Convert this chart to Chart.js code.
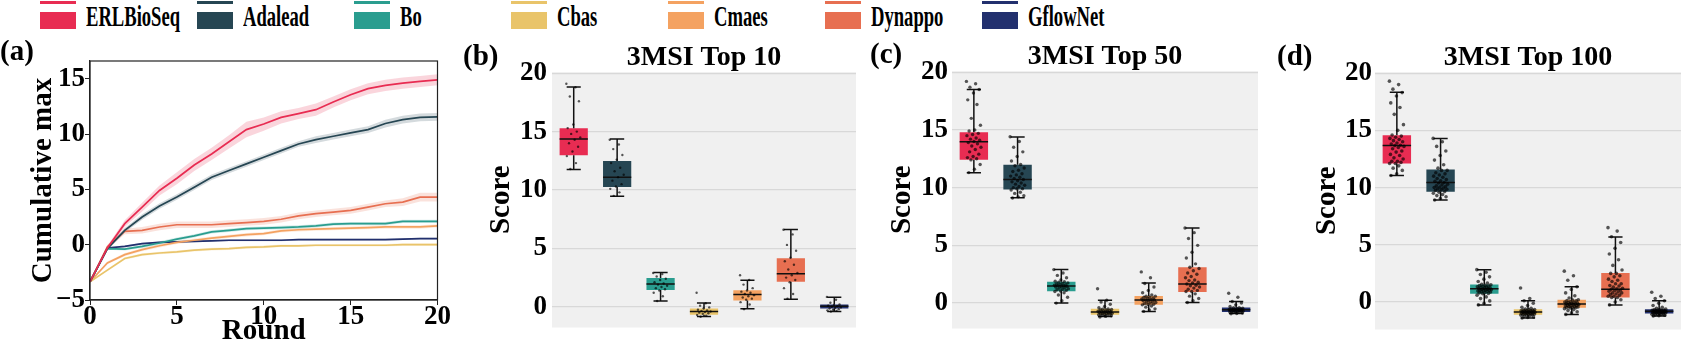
<!DOCTYPE html>
<html lang="en">
<head>
<meta charset="UTF-8">
<title>3MSI</title>
<script src="https://cdn.jsdelivr.net/npm/chart.js"></script>
<style>
  body { margin: 0; width: 1685px; height: 346px; position: relative; overflow: hidden; background: #fff;
         font-family: "Liberation Serif", "Times New Roman", serif; }
  canvas { position: absolute; top: 40px; }
  .item { position: absolute; top: 0; height: 36px; }
  .sw-line { position: absolute; left: 0; top: 1px; width: 36px; height: 3px; }
  .sw-box { position: absolute; left: 0; top: 12px; width: 36px; height: 17px; }
  .lab { position: absolute; left: 46px; top: 1px; font-weight: bold; font-size: 30px; line-height: 30px;
         white-space: nowrap; transform: scaleX(0.62); transform-origin: left top; color: #000; }
</style>
</head>
<body>
<div id="legend"></div>
<canvas id="pa" width="450" height="306" style="left:0px"></canvas>
<canvas id="pb" width="440" height="306" style="left:420px"></canvas>
<canvas id="pc" width="422" height="306" style="left:840px"></canvas>
<canvas id="pd" width="423" height="306" style="left:1262px"></canvas>
<script>
// ---- data ----
const methods = ['ERLBioSeq', 'Adalead', 'Bo', 'Cbas', 'Cmaes', 'Dynappo', 'GflowNet'];
const colors  = ['#E82C52', '#264653', '#2A9D8F', '#E9C46A', '#F4A261', '#E76F51', '#22306E'];

// (a) cumulative max per round, mean and spread
const rounds = [0,1,2,3,4,5,6,7,8,9,10,11,12,13,14,15,16,17,18,19,20];
const erlMean   = [-3.35,-0.3,1.9,3.4,4.9,6.0,7.2,8.2,9.3,10.4,10.9,11.5,11.85,12.2,12.9,13.55,14.1,14.4,14.6,14.75,14.9];
const erlSd     = [0.05,0.2,0.3,0.4,0.45,0.55,0.55,0.55,0.6,0.7,0.6,0.55,0.5,0.55,0.5,0.5,0.5,0.5,0.5,0.5,0.5];
const adaMean   = [-3.35,-0.35,1.3,2.5,3.5,4.3,5.2,6.1,6.7,7.3,7.9,8.5,9.1,9.5,9.8,10.1,10.4,10.95,11.3,11.5,11.55];
const adaSd     = [0.05,0.15,0.2,0.25,0.25,0.25,0.25,0.25,0.25,0.25,0.25,0.25,0.25,0.3,0.3,0.3,0.3,0.35,0.35,0.35,0.35];
const boMean    = [-3.35,-0.35,-0.4,-0.15,0.15,0.5,0.8,1.15,1.3,1.45,1.5,1.55,1.6,1.7,1.85,1.9,1.9,1.9,2.1,2.1,2.1];
const boSd      = [0.05,0.1,0.12,0.15,0.15,0.15,0.15,0.15,0.15,0.15,0.15,0.15,0.15,0.15,0.15,0.15,0.15,0.15,0.15,0.15,0.15];
const cbasMean  = [-3.35,-2.3,-1.25,-0.9,-0.75,-0.65,-0.5,-0.4,-0.35,-0.25,-0.2,-0.1,-0.1,-0.05,-0.05,-0.05,-0.05,-0.05,0,0,0];
const cbasSd    = [0.05,0.1,0.12,0.12,0.12,0.12,0.12,0.12,0.12,0.12,0.12,0.12,0.12,0.12,0.12,0.12,0.12,0.12,0.12,0.12,0.12];
const cmaesMean = [-3.35,-1.65,-0.9,-0.45,-0.1,0.2,0.4,0.6,0.75,0.9,1.0,1.25,1.35,1.4,1.45,1.5,1.55,1.6,1.6,1.6,1.7];
const cmaesSd   = [0.05,0.12,0.15,0.15,0.15,0.15,0.15,0.15,0.15,0.15,0.15,0.15,0.15,0.15,0.15,0.15,0.15,0.15,0.15,0.15,0.15];
const dynMean   = [-3.35,-0.2,1.2,1.3,1.6,1.8,1.8,1.8,1.9,2.0,2.1,2.3,2.6,2.8,2.95,3.1,3.4,3.7,3.85,4.3,4.3];
const dynSd     = [0.05,0.2,0.25,0.3,0.3,0.3,0.3,0.3,0.3,0.3,0.3,0.3,0.3,0.3,0.3,0.3,0.3,0.3,0.35,0.4,0.4];
const gflowMean = [-3.35,-0.3,-0.15,0.1,0.2,0.25,0.3,0.35,0.4,0.4,0.4,0.4,0.45,0.45,0.45,0.45,0.45,0.45,0.5,0.55,0.55];
const gflowSd   = [0.05,0.08,0.08,0.08,0.08,0.08,0.08,0.08,0.08,0.08,0.08,0.08,0.08,0.08,0.08,0.08,0.08,0.08,0.08,0.08,0.08];

// (b) top 10 box stats: whisker low, q1, median, q3, whisker high
const t10Lo  = [11.75, 9.47, 0.49, -0.82, -0.17, 0.65, -0.41];
const t10Q1  = [12.98, 10.26, 1.44, -0.68, 0.54, 2.15, -0.14];
const t10Med = [14.37, 11.1, 1.96, -0.41, 1.06, 2.83, 0.05];
const t10Q3  = [15.29, 12.49, 2.47, -0.14, 1.41, 4.16, 0.19];
const t10Hi  = [18.82, 14.37, 2.94, 0.32, 2.28, 6.61, 0.82];
const t10Pts = [
  [19.1,18.8,18.0,17.6,15.6,15.3,15.0,14.8,14.5,14.3,14.0,13.7,13.3,12.9,12.3,11.8],
  [14.3,13.9,13.5,13.0,12.6,12.3,11.9,11.6,11.3,11.1,10.8,10.5,10.3,10.1,9.8,9.5],
  [2.9,2.8,2.6,2.4,2.3,2.1,2.0,1.9,1.8,1.7,1.6,1.5,1.4,1.2,0.9,0.5],
  [1.2,0.3,0.1,-0.05,-0.15,-0.25,-0.3,-0.35,-0.4,-0.45,-0.5,-0.55,-0.6,-0.7,-0.75,-0.85],
  [2.7,2.3,1.9,1.6,1.4,1.3,1.2,1.1,1.0,0.9,0.8,0.7,0.6,0.4,0.2,-0.2],
  [6.6,6.2,5.3,4.8,4.2,3.9,3.6,3.2,2.9,2.7,2.5,2.3,2.1,1.6,1.1,0.7],
  [0.85,0.6,0.35,0.2,0.15,0.1,0.05,0.0,-0.05,-0.1,-0.15,-0.2,-0.25,-0.3,-0.35,-0.4]
];

// (c) top 50
const t50Lo  = [11.28, 9.13, 0.0, -1.16, -0.72, 0.05, -0.91];
const t50Q1  = [12.42, 9.84, 1.02, -1.0, -0.14, 0.96, -0.78];
const t50Med = [13.97, 10.7, 1.49, -0.78, 0.27, 1.66, -0.58];
const t50Q3  = [14.8, 11.98, 1.85, -0.5, 0.61, 3.1, -0.39];
const t50Hi  = [18.5, 14.38, 2.9, 0.25, 1.74, 6.5, 0.14];
const t50Pts = [
  [19.2,19.0,18.7,18.5,18.2,17.6,17.2,16.0,15.4,15.0,14.9,14.7,14.6,14.5,14.3,14.2,14.1,14.0,13.9,13.8,13.6,13.5,13.3,13.1,12.9,12.7,12.6,12.5,12.4,12.0,11.6,11.3],
  [14.4,14.0,13.5,13.1,12.7,12.3,12.0,11.9,11.7,11.5,11.4,11.2,11.1,11.0,10.9,10.8,10.7,10.6,10.5,10.4,10.3,10.2,10.1,10.0,9.9,9.9,9.8,9.6,9.5,9.3,9.2,9.1],
  [2.9,2.6,2.4,2.2,2.0,1.9,1.85,1.8,1.75,1.7,1.65,1.6,1.6,1.55,1.5,1.5,1.45,1.42,1.4,1.35,1.3,1.25,1.2,1.15,1.1,1.05,1.0,0.9,0.7,0.5,0.2,0.0],
  [1.24,0.25,0.1,-0.1,-0.3,-0.4,-0.5,-0.52,-0.55,-0.6,-0.6,-0.65,-0.68,-0.7,-0.72,-0.75,-0.77,-0.78,-0.8,-0.82,-0.85,-0.88,-0.9,-0.92,-0.95,-0.97,-1.0,-1.0,-1.05,-1.1,-1.15,-1.2],
  [2.7,2.2,1.7,1.4,1.1,0.9,0.7,0.6,0.6,0.5,0.5,0.42,0.4,0.35,0.3,0.28,0.27,0.2,0.2,0.12,0.1,0.05,0.0,-0.05,-0.1,-0.12,-0.15,-0.25,-0.35,-0.5,-0.6,-0.72],
  [6.5,6.1,5.6,5.0,4.4,3.9,3.4,3.1,3.0,2.8,2.6,2.5,2.3,2.2,2.0,1.95,1.8,1.75,1.66,1.55,1.5,1.4,1.3,1.2,1.1,1.0,1.0,0.8,0.6,0.4,0.2,0.05],
  [0.85,0.5,0.14,0.0,-0.15,-0.3,-0.4,-0.4,-0.45,-0.46,-0.5,-0.5,-0.54,-0.55,-0.57,-0.58,-0.6,-0.6,-0.62,-0.64,-0.65,-0.68,-0.7,-0.72,-0.72,-0.75,-0.77,-0.78,-0.82,-0.86,-0.9,-0.92]
];

// (d) top 100
const t100Lo  = [11.05, 8.92, -0.25, -1.39, -1.08, -0.25, -1.22];
const t100Q1  = [12.11, 9.64, 0.72, -1.11, -0.5, 0.39, -1.0];
const t100Med = [13.67, 10.44, 1.17, -0.86, -0.17, 1.11, -0.81];
const t100Q3  = [14.58, 11.58, 1.53, -0.64, 0.19, 2.53, -0.64];
const t100Hi  = [18.33, 14.28, 2.83, 0.11, 1.33, 5.69, 0.11];
const t100Pts = [
  [19.3,19.0,18.6,18.3,18.0,17.4,17.0,16.4,15.5,15.0,14.6,14.5,14.4,14.3,14.2,14.1,14.0,13.9,13.8,13.7,13.67,13.6,13.5,13.4,13.2,13.1,12.9,12.8,12.6,12.5,12.3,12.3,12.2,12.1,12.1,11.9,11.7,11.5,11.2,11.05],
  [14.3,14.0,13.6,13.2,12.8,12.4,12.0,11.7,11.5,11.5,11.3,11.2,11.1,11.0,10.9,10.8,10.7,10.6,10.55,10.44,10.4,10.3,10.25,10.15,10.1,10.05,10.0,9.95,9.9,9.85,9.8,9.75,9.65,9.6,9.5,9.4,9.3,9.2,9.05,8.92],
  [2.83,2.6,2.4,2.2,2.0,1.8,1.65,1.55,1.5,1.45,1.45,1.4,1.38,1.33,1.3,1.27,1.22,1.2,1.17,1.15,1.12,1.1,1.07,1.05,1.02,1.0,0.97,0.95,0.9,0.88,0.82,0.8,0.75,0.72,0.6,0.45,0.3,0.1,-0.1,-0.25],
  [1.22,0.3,0.11,-0.1,-0.3,-0.45,-0.55,-0.62,-0.65,-0.68,-0.7,-0.72,-0.74,-0.76,-0.78,-0.8,-0.82,-0.84,-0.85,-0.86,-0.88,-0.9,-0.91,-0.94,-0.95,-0.98,-0.99,-1.02,-1.03,-1.06,-1.07,-1.1,-1.1,-1.12,-1.14,-1.2,-1.25,-1.3,-1.35,-1.39],
  [2.7,2.3,1.9,1.33,1.1,0.8,0.55,0.35,0.2,0.18,0.12,0.1,0.05,0.0,-0.02,-0.05,-0.08,-0.1,-0.13,-0.17,-0.18,-0.22,-0.23,-0.28,-0.3,-0.34,-0.35,-0.4,-0.4,-0.44,-0.46,-0.48,-0.5,-0.52,-0.58,-0.66,-0.75,-0.85,-0.95,-1.08],
  [6.5,6.2,5.7,5.2,4.7,4.2,3.7,3.2,2.8,2.5,2.5,2.3,2.2,2.0,1.9,1.8,1.6,1.6,1.45,1.4,1.3,1.2,1.15,1.11,1.05,1.0,0.95,0.9,0.8,0.8,0.7,0.65,0.6,0.5,0.5,0.4,0.4,0.2,0.0,-0.25],
  [0.85,0.5,0.3,0.11,-0.1,-0.3,-0.45,-0.55,-0.62,-0.65,-0.66,-0.69,-0.7,-0.72,-0.74,-0.76,-0.78,-0.79,-0.81,-0.82,-0.84,-0.85,-0.87,-0.88,-0.9,-0.91,-0.93,-0.94,-0.96,-0.97,-1.0,-1.0,-1.03,-1.04,-1.06,-1.08,-1.12,-1.16,-1.2,-1.22]
];

// ---- setup ----
Chart.defaults.font.family = '"Liberation Serif", "Times New Roman", serif';
Chart.defaults.font.weight = 'bold';
Chart.defaults.color = '#000';
Chart.defaults.animation = false;

function rgba(hex, a) {
  const n = parseInt(hex.slice(1), 16);
  return `rgba(${n >> 16},${(n >> 8) & 255},${n & 255},${a})`;
}
const minus = v => (v < 0 ? '\u2212' + Math.abs(v) : '' + v);

// legend (html)
const legend = document.getElementById('legend');
methods.forEach((m, i) => {
  const d = document.createElement('div');
  d.className = 'item';
  d.style.left = (40 + i * 157) + 'px';
  d.innerHTML = `<div class="sw-line" style="background:${colors[i]}"></div>` +
                `<div class="sw-box" style="background:${colors[i]}"></div>` +
                `<span class="lab">${m}</span>`;
  legend.appendChild(d);
});

// plugins
const tagPlugin = {
  id: 'tag',
  afterDraw(chart, args, o) {
    if (!o || !o.text) return;
    const c = chart.ctx;
    c.save();
    c.font = 'bold 29px "Liberation Serif", serif';
    c.fillStyle = '#000';
    c.textBaseline = 'alphabetic';
    c.fillText(o.text, o.x, o.y);
    c.restore();
  }
};
const bgPlugin = {
  id: 'plotBg',
  beforeDraw(chart, args, o) {
    if (!o || !o.color) return;
    const a = chart.chartArea;
    chart.ctx.save();
    chart.ctx.fillStyle = o.color;
    chart.ctx.fillRect(a.left, a.top, a.right - a.left, a.bottom - a.top);
    chart.ctx.restore();
  }
};
const framePlugin = {
  id: 'frame',
  afterDatasetsDraw(chart, args, o) {
    if (!o || !o.color) return;
    const a = chart.chartArea, c = chart.ctx;
    c.save();
    c.strokeStyle = o.color;
    c.lineWidth = 1.2;
    c.strokeRect(a.left, a.top, a.right - a.left, a.bottom - a.top);
    c.restore();
  }
};
// whiskers, caps and medians, drawn right after the boxes (dataset 0)
const whiskerPlugin = {
  id: 'whiskers',
  afterDatasetDraw(chart, args, o) {
    if (args.index !== 0 || !o || !o.lo) return;
    const xs = chart.scales.x, ys = chart.scales.y, c = chart.ctx;
    const bars = chart.getDatasetMeta(0).data;
    c.save();
    c.strokeStyle = '#111';
    c.lineWidth = 1.5;
    bars.forEach((bar, i) => {
      const px = xs.getPixelForValue(i);
      const hw = bar.width / 2;
      const yLo = ys.getPixelForValue(o.lo[i]), yHi = ys.getPixelForValue(o.hi[i]);
      const yQ1 = ys.getPixelForValue(o.q1[i]), yQ3 = ys.getPixelForValue(o.q3[i]);
      const yMed = ys.getPixelForValue(o.med[i]);
      c.beginPath();
      c.moveTo(px, yQ3); c.lineTo(px, yHi);
      c.moveTo(px, yQ1); c.lineTo(px, yLo);
      c.moveTo(px - hw / 2, yHi); c.lineTo(px + hw / 2, yHi);
      c.moveTo(px - hw / 2, yLo); c.lineTo(px + hw / 2, yLo);
      c.moveTo(px - hw, yMed); c.lineTo(px + hw, yMed);
      c.stroke();
    });
    c.restore();
  }
};
Chart.register(tagPlugin, bgPlugin, framePlugin, whiskerPlugin);

// ---- panel (a) ----
const curves = [
  [erlMean, erlSd], [adaMean, adaSd], [boMean, boSd], [cbasMean, cbasSd],
  [cmaesMean, cmaesSd], [dynMean, dynSd], [gflowMean, gflowSd]
];
const aSets = [];
curves.forEach(([mean, sd], i) => {
  aSets.push({ type: 'line', data: mean.map((v, k) => v + sd[k]), borderWidth: 0, pointRadius: 0, fill: false, order: 10 });
  aSets.push({ type: 'line', data: mean.map((v, k) => v - sd[k]), borderWidth: 0, pointRadius: 0,
               fill: '-1', backgroundColor: rgba(colors[i], 0.2), order: 10 });
});
curves.forEach(([mean], i) => {
  aSets.push({ type: 'line', label: methods[i], data: mean, borderColor: colors[i], borderWidth: 1.7,
               pointRadius: 0, tension: 0, fill: false, order: 1 });
});

new Chart(document.getElementById('pa'), {
  type: 'line',
  data: { labels: rounds, datasets: aSets },
  options: {
    responsive: false,
    layout: { padding: { top: 21, right: 10, left: 0, bottom: 0 } },
    plugins: {
      legend: { display: false }, tooltip: { enabled: false },
      tag: { text: '(a)', x: 0, y: 20 },
      frame: { color: '#222' }
    },
    scales: {
      x: {
        type: 'linear', min: 0, max: 20,
        ticks: { stepSize: 5, font: { size: 27, lineHeight: 1 }, padding: -1, maxRotation: 0 },
        grid: { drawOnChartArea: false, drawTicks: true, tickLength: 5, color: '#222' },
        border: { color: '#222', width: 1.2 },
        title: { display: true, text: 'Round', font: { size: 29, lineHeight: 1 }, padding: 0 },
        afterFit: s => { s.height = 46; }
      },
      y: {
        type: 'linear', min: -5, max: 16.6,
        ticks: { stepSize: 5, includeBounds: false, font: { size: 27, lineHeight: 1 }, padding: 0, callback: minus },
        grid: { drawOnChartArea: false, drawTicks: true, tickLength: 5, color: '#222' },
        border: { color: '#222', width: 1.2 },
        title: { display: true, text: 'Cumulative max', font: { size: 29, lineHeight: 1 }, padding: { top: 29, bottom: 0 } },
        afterFit: s => { s.width = 90; }
      }
    }
  }
});

// ---- box panels ----
function jit(k) { return (((k * 0.618034) % 1) - 0.5) * 0.34; }

function boxPanel(id, tag, title, lo, q1, med, q3, hi, pts, yMin, lay) {
  const scatter = [];
  pts.forEach((vals, i) => vals.forEach((v, k) => scatter.push({ x: i + jit(k), y: v })));
  new Chart(document.getElementById(id), {
    type: 'scatter',
    data: {
      datasets: [
        { type: 'bar', data: methods.map((_, i) => ({ x: i, y: [q1[i], q3[i]] })),
          backgroundColor: colors, borderWidth: 0, barPercentage: 0.65, categoryPercentage: 1, order: 2 },
        { type: 'scatter', data: scatter, pointRadius: lay.dot, pointBorderWidth: 0,
          pointBackgroundColor: 'rgba(0,0,0,0.65)', order: 1 }
      ]
    },
    options: {
      responsive: false,
      layout: { padding: { top: 0, right: lay.right, left: 0, bottom: 6 } },
      plugins: {
        legend: { display: false }, tooltip: { enabled: false },
        title: { display: true, text: title, fullSize: false, font: { size: 28, lineHeight: 1 },
                 padding: { top: lay.titleTop, bottom: 0 }, color: '#000' },
        tag: { text: tag, x: lay.tagX, y: lay.tagY },
        plotBg: { color: '#F0F0F0' },
        whiskers: { lo, q1, med, q3, hi }
      },
      scales: {
        x: { type: 'linear', min: -0.5, max: 6.5, offset: false, display: false },
        y: {
          type: 'linear', min: yMin, max: 20.1,
          ticks: { stepSize: 5, includeBounds: false, font: { size: 27, lineHeight: 1 }, padding: lay.tickPad, callback: minus },
          grid: { color: '#D8D8D8', lineWidth: 1.2, drawTicks: false },
          border: { display: false },
          title: { display: true, text: 'Score', font: { size: 29, lineHeight: 1 }, padding: { top: lay.labelPad, bottom: 0 } },
          afterFit: s => { s.width = lay.axisW; }
        }
      }
    }
  });
}

boxPanel('pb', '(b)', '3MSI Top 10', t10Lo, t10Q1, t10Med, t10Q3, t10Hi, t10Pts, -1.77,
  { axisW: 132, labelPad: 67, tickPad: 5, right: 4, titleTop: 4, tagX: 43, tagY: 25, dot: 1.2 });
boxPanel('pc', '(c)', '3MSI Top 50', t50Lo, t50Q1, t50Med, t50Q3, t50Hi, t50Pts, -2.2,
  { axisW: 112, labelPad: 48, tickPad: 4, right: 3, titleTop: 3, tagX: 30, tagY: 23, dot: 1.7 });
boxPanel('pd', '(d)', '3MSI Top 100', t100Lo, t100Q1, t100Med, t100Q3, t100Hi, t100Pts, -2.4,
  { axisW: 113, labelPad: 51, tickPad: 3, right: 3, titleTop: 4, tagX: 15, tagY: 25, dot: 1.8 });
</script>
</body>
</html>
